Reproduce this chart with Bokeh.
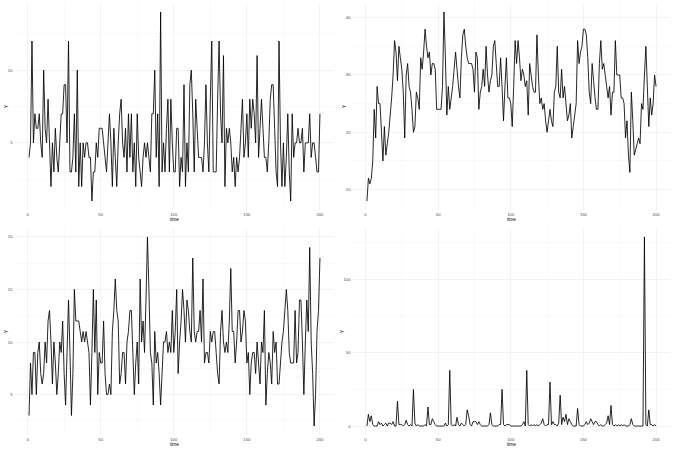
from bokeh.plotting import figure
from bokeh.layouts import gridplot
from bokeh.models import Range1d, FixedTicker
from bokeh.embed import file_html
from bokeh.resources import INLINE

time = list(range(1, 201))

y_top_left = [
    4, 5, 12, 5, 7, 6, 6, 7, 5, 4,
    10, 6, 5, 8, 5, 2, 5, 3, 6, 4,
    3, 5, 7, 7, 9, 9, 5, 12, 3, 3,
    4, 7, 3, 10, 2, 5, 2, 5, 4, 5,
    5, 4, 4, 1, 3, 3, 5, 4, 6, 6,
    6, 5, 4, 3, 5, 7, 5, 2, 6, 4,
    2, 5, 7, 8, 5, 4, 6, 3, 7, 4,
    7, 3, 5, 2, 7, 4, 3, 2, 4, 5,
    4, 5, 4, 3, 7, 7, 10, 4, 7, 2,
    14, 3, 5, 3, 6, 8, 3, 8, 5, 3,
    3, 6, 6, 2, 4, 3, 9, 2, 5, 3,
    9, 10, 7, 3, 8, 6, 4, 4, 4, 3,
    5, 9, 5, 3, 8, 12, 3, 3, 3, 8,
    12, 7, 5, 11, 2, 6, 5, 6, 5, 3,
    4, 2, 4, 3, 4, 6, 8, 4, 5, 7,
    4, 8, 6, 8, 7, 5, 11, 4, 6, 8,
    6, 4, 4, 3, 5, 8, 9, 9, 6, 3,
    2, 12, 5, 2, 5, 2, 4, 7, 3, 1,
    7, 4, 5, 5, 6, 5, 5, 6, 3, 5,
    5, 5, 7, 4, 5, 5, 4, 3, 3, 7,
]

y_top_right = [
    8, 12, 11, 12, 15, 24, 19, 28, 25, 25,
    20, 15, 21, 16, 18, 20, 23, 26, 30, 36,
    34, 29, 35, 33, 31, 27, 19, 30, 32, 28,
    27, 24, 20, 21, 27, 26, 24, 33, 31, 34,
    38, 35, 33, 34, 30, 32, 32, 31, 24, 24,
    24, 24, 28, 41, 33, 23, 28, 24, 26, 28,
    31, 34, 31, 28, 26, 33, 37, 38, 35, 33,
    32, 32, 32, 31, 27, 34, 33, 24, 27, 28,
    31, 28, 35, 30, 27, 29, 30, 35, 36, 32,
    28, 28, 33, 28, 22, 28, 33, 26, 26, 25,
    21, 28, 36, 32, 36, 33, 29, 31, 30, 28,
    29, 23, 32, 30, 28, 27, 27, 37, 30, 25,
    26, 24, 25, 22, 20, 22, 24, 22, 21, 27,
    28, 35, 27, 26, 31, 26, 28, 25, 22, 23,
    25, 19, 21, 23, 25, 36, 32, 34, 35, 38,
    38, 37, 33, 27, 25, 32, 29, 26, 24, 24,
    32, 36, 31, 32, 30, 28, 26, 28, 23, 27,
    27, 36, 30, 30, 30, 26, 26, 25, 19, 22,
    16, 13, 27, 22, 16, 17, 18, 19, 18, 25,
    24, 30, 35, 28, 21, 26, 23, 25, 30, 28,
]

y_bottom_left = [
    3, 8, 5, 9, 9, 5, 9, 10, 7, 6,
    7, 10, 8, 12, 13, 10, 6, 10, 8, 5,
    7, 10, 9, 12, 7, 4, 9, 14, 9, 3,
    7, 15, 12, 12, 12, 11, 10, 11, 10, 11,
    10, 9, 4, 9, 15, 9, 14, 5, 9, 8,
    8, 12, 7, 5, 5, 6, 5, 11, 13, 16,
    13, 12, 6, 7, 9, 9, 6, 10, 11, 13,
    13, 9, 5, 8, 10, 6, 16, 10, 12, 9,
    14, 20, 15, 9, 8, 4, 11, 8, 9, 7,
    4, 7, 10, 10, 11, 9, 10, 9, 13, 9,
    11, 15, 7, 10, 12, 15, 13, 10, 14, 13,
    11, 10, 18, 11, 10, 11, 11, 13, 10, 16,
    8, 9, 9, 8, 11, 10, 11, 11, 9, 7,
    6, 11, 13, 10, 9, 10, 9, 12, 17, 11,
    11, 8, 10, 13, 13, 10, 11, 13, 12, 8,
    9, 5, 8, 9, 9, 7, 10, 8, 6, 10,
    9, 13, 4, 7, 9, 8, 6, 11, 9, 10,
    6, 6, 8, 10, 11, 13, 15, 13, 9, 8,
    8, 8, 13, 8, 9, 14, 14, 10, 5, 10,
    14, 11, 19, 10, 7, 2, 5, 11, 13, 18,
]

y_bottom_right = [
    0, 8, 3, 7, 1, 0, 0, 0, 3, 1,
    2, 0, 1, 2, 0, 2, 2, 1, 3, 0,
    0, 17, 1, 1, 1, 0, 1, 4, 1, 0,
    1, 0, 25, 2, 0, 1, 0, 0, 0, 0,
    1, 0, 13, 1, 1, 5, 3, 1, 0, 0,
    0, 0, 0, 0, 2, 0, 1, 38, 1, 0,
    1, 0, 6, 1, 0, 2, 1, 0, 1, 11,
    7, 1, 0, 3, 3, 3, 1, 3, 1, 0,
    0, 0, 0, 0, 1, 9, 1, 0, 0, 0,
    0, 1, 1, 25, 1, 0, 1, 1, 1, 0,
    0, 0, 0, 0, 0, 0, 0, 1, 3, 0,
    38, 1, 0, 1, 0, 1, 0, 1, 0, 1,
    2, 5, 1, 0, 1, 1, 30, 1, 3, 1,
    1, 0, 2, 21, 1, 6, 3, 8, 1, 5,
    3, 1, 0, 0, 0, 12, 1, 0, 0, 0,
    1, 3, 1, 2, 5, 3, 1, 3, 3, 1,
    0, 1, 0, 0, 1, 2, 7, 1, 14, 1,
    0, 1, 0, 1, 0, 1, 0, 1, 0, 0,
    0, 1, 5, 1, 0, 0, 0, 0, 0, 0,
    0, 129, 1, 0, 11, 1, 1, 0, 1, 0,
]

x_ticks = [0, 50, 100, 150, 200]
x_minor = [25, 75, 125, 175]
yt_top_left = [5, 10]
ym_top_left = [2.5, 7.5, 12.5]
yt_top_right = [10, 20, 30, 40]
ym_top_right = [15, 25, 35]
yt_bottom_left = [5, 10, 15, 20]
ym_bottom_left = [2.5, 7.5, 12.5, 17.5]
yt_bottom_right = [0, 50, 100]
ym_bottom_right = [25, 75, 125]

FONT = "Liberation Sans"


def panel(y, yticks, yminor, w, h, left, right, top, bottom):
    lo, hi = min(y), max(y)
    pad = 0.05 * (hi - lo)
    xpad = 0.05 * (max(time) - min(time))
    p = figure(width=w, height=h, output_backend="svg", toolbar_location=None,
               x_range=Range1d(min(time) - xpad, max(time) + xpad),
               y_range=Range1d(lo - pad, hi + pad),
               min_border_left=left, min_border_right=right,
               min_border_top=top, min_border_bottom=bottom)
    p.outline_line_color = None
    p.background_fill_color = "white"
    p.line(time, y, line_color="black", line_width=0.85)
    p.xaxis.ticker = FixedTicker(ticks=x_ticks, minor_ticks=x_minor)
    p.yaxis.ticker = FixedTicker(ticks=yticks, minor_ticks=yminor)
    p.xaxis.axis_label = "time"
    p.yaxis.axis_label = "Y"
    for ax in (p.xaxis[0], p.yaxis[0]):
        ax.axis_line_color = None
        ax.major_tick_line_color = None
        ax.minor_tick_line_color = None
        ax.major_tick_out = 0
        ax.major_tick_in = 0
        ax.minor_tick_out = 0
        ax.minor_tick_in = 0
        ax.major_label_text_font = FONT
        ax.major_label_text_font_size = "4.2px"
        ax.major_label_text_color = "#4D4D4D"
        ax.axis_label_text_font = FONT
        ax.axis_label_text_font_size = "4.8px"
        ax.axis_label_text_font_style = "normal"
        ax.axis_label_text_color = "black"
        ax.major_label_standoff = 2
    p.xaxis[0].axis_label_standoff = -2
    p.yaxis[0].axis_label_standoff = -4
    for g in (p.xgrid[0], p.ygrid[0]):
        g.grid_line_color = "#EBEBEB"
        g.grid_line_width = 0.6
        g.minor_grid_line_color = "#F3F3F3"
        g.minor_grid_line_width = 0.5
    return p


p1 = panel(y_top_left, yt_top_left, ym_top_left, 336, 224, 14, 2, 2, 12)
p2 = panel(y_top_right, yt_top_right, ym_top_right, 337, 224, 14, 3, 2, 12)
p3 = panel(y_bottom_left, yt_bottom_left, ym_bottom_left, 336, 225, 14, 2, 3, 13)
p4 = panel(y_bottom_right, yt_bottom_right, ym_bottom_right, 337, 225, 16, 3, 3, 13)

grid = gridplot([[p1, p2], [p3, p4]], toolbar_location=None)

open("out.html", "w").write(file_html(grid, INLINE))
